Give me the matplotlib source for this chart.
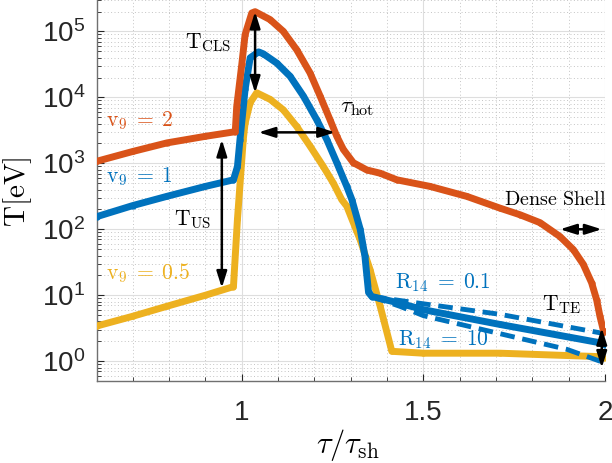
import matplotlib
matplotlib.use("Agg")
import matplotlib.pyplot as plt
from matplotlib.ticker import LogLocator, FixedLocator, FixedFormatter, MultipleLocator, NullFormatter
import numpy as np

plt.rcParams['font.family'] = ['Liberation Sans', 'DejaVu Sans']
plt.rcParams['mathtext.fontset'] = 'cm'

# courbes (tau/tau_sh, T en eV)
x_v2 = [0.6, 0.7, 0.794, 0.9, 0.982, 0.986, 1.0, 1.009, 1.0275, 1.0366, 1.0779, 1.1145, 1.1514,
        1.188, 1.2156, 1.243, 1.2615, 1.2797, 1.307, 1.344, 1.381, 1.427, 1.518, 1.619, 1.711,
        1.766, 1.821, 1.876, 1.913, 1.940, 1.963, 1.977, 1.986, 1.995, 2.0]
T_v2 = [1072, 1514, 2042, 2570, 3020, 7244, 31623, 89125, 190546, 199526, 151356, 1.0e5, 52481,
        23442, 10471, 4571, 2570, 1622, 1023, 794, 708, 562, 447, 316, 209,
        166, 126, 77.6, 49, 29.5, 15.5, 8.5, 4.8, 3.0, 2.8]

x_v1 = [0.6, 0.7, 0.794, 0.9, 0.977, 0.988, 0.995, 1.009, 1.023, 1.046, 1.0595, 1.0963, 1.133,
        1.1696, 1.2064, 1.234, 1.2615, 1.289, 1.303, 1.326, 1.339, 1.349, 1.358, 1.427, 1.5,
        1.711, 1.986, 2.0]
T_v1 = [155, 229, 316, 447, 562, 891, 2291, 13183, 39811, 49000, 45700, 33113, 20893,
        10471, 4571, 2291, 1023, 447, 282, 100, 38.9, 11.0, 9.55, 7.76, 6.03,
        3.6, 1.9, 1.78]

x_v05 = [0.6, 0.7, 0.794, 0.9, 0.977, 0.988, 1.004, 1.009, 1.023, 1.041, 1.078, 1.1145, 1.151,
         1.188, 1.2246, 1.252, 1.275, 1.289, 1.326, 1.353, 1.381, 1.413, 1.5, 1.711, 1.986, 2.0]
T_v05 = [3.4, 4.8, 6.8, 10, 13.5, 141, 2291, 4074, 8318, 11749, 9333, 6457, 3631,
         1820, 891, 501, 282, 224, 69, 24.5, 6.8, 1.41, 1.32, 1.32, 1.17, 1.12]

# R14 = 0.1 et R14 = 10 (v9 = 1)
x_R01 = [1.358, 1.5, 1.711, 1.986, 2.0]
T_R01 = [9.55, 7.41, 5.13, 2.69, 2.57]
x_R10 = [1.358, 1.436, 1.5, 1.739, 1.895, 1.986, 2.0]
T_R10 = [9.55, 6.76, 4.9, 2.4, 1.51, 1.0, 0.93]

orange = '#D95319'
bleu = '#0072BD'
jaune = '#EDB120'

fig = plt.figure(figsize=(6.12, 4.63), dpi=100)
ax = fig.add_axes([0.1577, 0.1771, 0.8309, 0.8229])

ax.plot(x_v05, T_v05, color=jaune, lw=5, marker='o', ms=3.5, zorder=3)
ax.plot(x_R01, T_R01, color=bleu, lw=3.5, ls=(0, (3, 1.6)), zorder=3)
ax.plot(x_R10, T_R10, color=bleu, lw=3.5, ls=(0, (3, 1.6)), zorder=3)
ax.plot(x_v1, T_v1, color=bleu, lw=5, marker='o', ms=3.5, zorder=4)
ax.plot(x_v2, T_v2, color=orange, lw=5, marker='o', ms=3.5, zorder=5)

ax.set_yscale('log')
ax.set_xlim(0.6, 2)
ax.set_ylim(0.5, 3e5)

ax.xaxis.set_major_locator(FixedLocator([1, 1.5, 2]))
ax.xaxis.set_major_formatter(FixedFormatter(['1', '1.5', '2']))
ax.xaxis.set_minor_locator(MultipleLocator(0.1))
ax.yaxis.set_major_locator(LogLocator(base=10, numticks=10))
ax.yaxis.set_minor_locator(LogLocator(base=10, subs=np.arange(2, 10), numticks=20))
ax.yaxis.set_minor_formatter(NullFormatter())

ax.tick_params(which='both', direction='in', colors='#262626', labelsize=20)
ax.tick_params(which='major', length=5, width=0.8)
ax.tick_params(which='minor', length=3, width=0.6)
ax.tick_params(axis='y', pad=8)
ax.tick_params(axis='x', pad=14)
for s in ['top', 'right']:
    ax.spines[s].set_visible(False)
for s in ['left', 'bottom']:
    ax.spines[s].set_color('#707070')
    ax.spines[s].set_linewidth(1.0)

ax.grid(True, which='major', color='#dedede', lw=0.8, ls='-')
ax.grid(True, which='minor', color='#c4c4c4', lw=0.7, ls=(0, (1, 2.5)))
ax.set_axisbelow(True)

fig.text(0.029, 0.585, r'$\mathrm{T[eV]}$', rotation=90, ha='center', va='center', fontsize=21)
fig.text(0.569, 0.038, r'$\tau/\tau_{\mathrm{sh}}$', ha='center', va='center', fontsize=22)

# flèches
fleche = dict(arrowstyle='<|-|>,head_length=0.7,head_width=0.22', color='k', lw=1.8,
              shrinkA=0, shrinkB=0, mutation_scale=14)
ax.annotate('', xy=(1.0366, 2.0e5), xytext=(1.0366, 1.17e4), arrowprops=fleche, zorder=6)
ax.annotate('', xy=(0.945, 2290), xytext=(0.945, 12.9), arrowprops=fleche, zorder=6)
ax.annotate('', xy=(1.046, 2950), xytext=(1.257, 2950), arrowprops=fleche, zorder=6)
ax.annotate('', xy=(1.876, 100), xytext=(1.991, 100), arrowprops=fleche, zorder=6)
ax.annotate('', xy=(1.991, 3.2), xytext=(1.991, 0.79), arrowprops=fleche, zorder=6)

fs = 15.5
ax.text(0.908, 6.8e4, r'$\mathrm{T_{CLS}}$', ha='center', va='center', fontsize=fs)
ax.text(0.864, 141, r'$\mathrm{T_{US}}$', ha='center', va='center', fontsize=fs)
ax.text(1.317, 7240, r'$\tau_{\mathrm{hot}}$', ha='center', va='center', fontsize=16.5)
ax.text(1.862, 282, r'$\mathrm{Dense\ Shell}$', ha='center', va='center', fontsize=14.5)
ax.text(1.881, 7.2, r'$\mathrm{T_{TE}}$', ha='center', va='center', fontsize=fs)
ax.text(0.625, 4370, r'$\mathrm{v}_9 \;=\; 2$', ha='left', va='center', fontsize=fs, color=orange)
ax.text(0.625, 631, r'$\mathrm{v}_9 \;=\; 1$', ha='left', va='center', fontsize=fs, color=bleu)
ax.text(0.625, 21.9, r'$\mathrm{v}_9 \;=\; 0.5$', ha='left', va='center', fontsize=fs, color=jaune)
ax.text(1.422, 15.5, r'$\mathrm{R}_{14} \;=\; 0.1$', ha='left', va='center', fontsize=fs, color=bleu)
ax.text(1.431, 2.14, r'$\mathrm{R}_{14} \;=\; 10$', ha='left', va='center', fontsize=fs, color=bleu)

fig.savefig('out.png', dpi=100)
